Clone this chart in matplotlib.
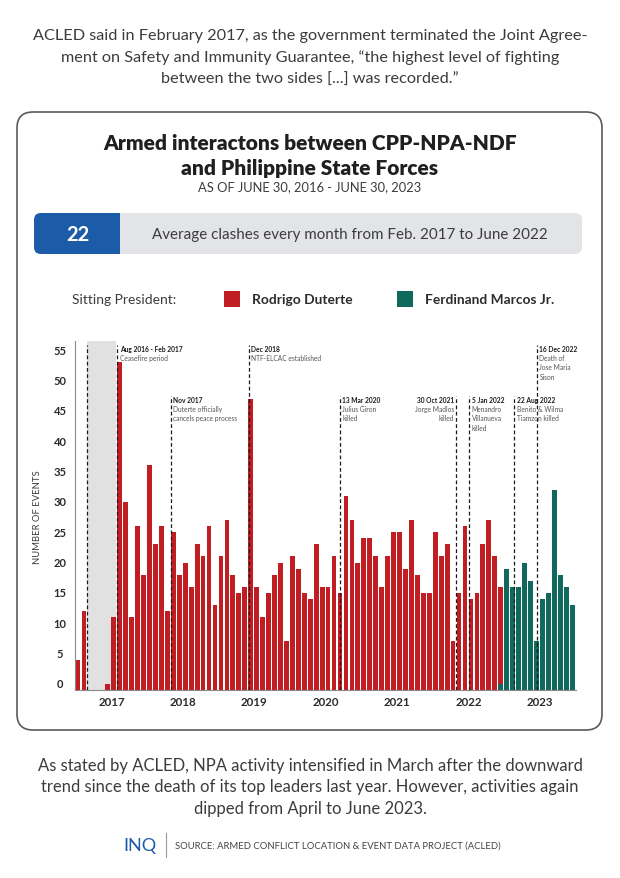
import calendar

import numpy as np
import pandas as pd
import matplotlib
matplotlib.use("Agg")
import matplotlib.pyplot as plt
from matplotlib.patches import FancyBboxPatch, Rectangle
from matplotlib.transforms import ScaledTranslation

plt.rcParams["font.family"] = ["Lato", "DejaVu Sans"]

# monthly counts, Jul 2016 - Jun 2023
months = pd.date_range("2016-07-01", "2023-06-01", freq="MS")

# Duterte: Jul 2016 - Jun 2022
duterte = [
    5, 13, 0, 0, 0, 1,
    12, 54, 31, 12, 27, 19, 37, 24, 27, 13, 26, 19,
    21, 17, 24, 22, 27, 14, 22, 28, 19, 16, 17, 48,
    17, 12, 16, 19, 21, 8, 22, 20, 16, 15, 24, 17,
    17, 22, 16, 32, 28, 21, 25, 25, 22, 17, 22, 26,
    26, 20, 28, 19, 16, 16, 26, 22, 24, 8, 16, 27,
    15, 16, 24, 28, 22, 16,
]
# Marcos Jr.: Jun 2022 - Jun 2023
marcos = [1, 20, 17, 17, 21, 18, 8, 15, 16, 33, 19, 17, 14]

ceasefire = ("2016-08-28", "2017-02-01")

# (date, bold label, description, tier, side)
events = [
    ("2017-02-01", "Aug 2016 - Feb 2017", "Ceasefire period", "high", "right"),
    ("2017-11-01", "Nov 2017", "Duterte officially\ncancels peace process", "low", "right"),
    ("2018-12-04", "Dec 2018", "NTF-ELCAC established", "high", "right"),
    ("2020-03-13", "13 Mar 2020", "Julius Giron\nkilled", "low", "right"),
    ("2021-10-30", "30 Oct 2021", "Jorge Madlos\nkilled", "low", "left"),
    ("2022-01-05", "5 Jan 2022", "Menandro\nVillanueva\nkilled", "low", "right"),
    ("2022-08-22", "22 Aug 2022", "Benito & Wilma\nTiamzon killed", "low", "right"),
    ("2022-12-16", "16 Dec 2022", "Death of\nJose Maria\nSison", "high", "right"),
]

RED = "#c11e23"
TEAL = "#0f6a5d"
BLUE = "#1b5ba8"
DARK = "#2b2b2b"
GREY_TXT = "#3c3c3c"


def month_pos(date_str):
    d = pd.Timestamp(date_str)
    ndays = calendar.monthrange(d.year, d.month)[1]
    return (d.year - months[0].year) * 12 + (d.month - months[0].month) + (d.day - 1) / ndays


fig = plt.figure(figsize=(6.2, 8.79), dpi=100)

# background layer in pixel coords
bg = fig.add_axes([0, 0, 1, 1])
bg.set_xlim(0, 620)
bg.set_ylim(879, 0)
bg.axis("off")

top_lines = [
    "ACLED said in February 2017, as the government terminated the Joint Agree-",
    "ment on Safety and Immunity Guarantee, \u201cthe highest level of fighting",
    "between the two sides [...] was recorded.\u201d",
]
for i, s in enumerate(top_lines):
    bg.text(310, 36 + 22 * i, s, ha="center", va="center", fontsize=11.7, color=GREY_TXT)

bg.add_patch(FancyBboxPatch((17, 113), 585, 618, boxstyle="round,pad=0,rounding_size=16",
                            fc="white", ec="#5a5a5a", lw=1.2))

bg.text(310, 144, "Armed interactons between CPP-NPA-NDF", ha="center", va="center",
        fontsize=15, fontweight="heavy", color="#1f1f1f")
bg.text(310, 169, "and Philippine State Forces", ha="center", va="center",
        fontsize=15, fontweight="heavy", color="#1f1f1f")
bg.text(310, 187, "AS OF JUNE 30, 2016 - JUNE 30, 2023", ha="center", va="center",
        fontsize=9.3, color=GREY_TXT)

# banner
bg.add_patch(FancyBboxPatch((34, 214), 548, 41, boxstyle="round,pad=0,rounding_size=7",
                            fc="#e3e4e8", ec="none"))
bg.add_patch(FancyBboxPatch((34, 214), 86, 41, boxstyle="round,pad=0,rounding_size=7",
                            fc=BLUE, ec="none"))
bg.add_patch(Rectangle((110, 214), 10, 41, fc=BLUE, ec="none"))
bg.text(78, 235, "22", ha="center", va="center", fontsize=14.5, fontweight="bold", color="white")
bg.text(350, 235, "Average clashes every month from Feb. 2017 to June 2022",
        ha="center", va="center", fontsize=10.9, color=GREY_TXT)

# legend
bg.text(72, 300, "Sitting President:", ha="left", va="center", fontsize=10, color=GREY_TXT)
bg.add_patch(Rectangle((224, 292), 16, 16, fc=RED, ec="none"))
bg.text(252, 300, "Rodrigo Duterte", ha="left", va="center", fontsize=9.9,
        fontweight="bold", color=DARK)
bg.add_patch(Rectangle((397, 292), 16, 16, fc=TEAL, ec="none"))
bg.text(425, 300, "Ferdinand Marcos Jr.", ha="left", va="center", fontsize=9.9,
        fontweight="bold", color=DARK)

bg.text(38, 517, "NUMBER OF EVENTS", rotation=90, ha="center", va="center",
        fontsize=6.8, color=GREY_TXT)

bottom_lines = [
    "As stated by ACLED, NPA activity intensified in March after the downward",
    "trend since the death of its top leaders last year. However, activities again",
    "dipped from April to June 2023.",
]
for i, s in enumerate(bottom_lines):
    bg.text(310, 766 + 21.5 * i, s, ha="center", va="center", fontsize=12, color=GREY_TXT)

bg.text(140, 846, "INQ", ha="center", va="center", fontsize=13, color=BLUE)
bg.plot([166, 166], [834, 858], color="#9a9a9a", lw=0.8)
bg.text(175, 846, "SOURCE: ARMED CONFLICT LOCATION & EVENT DATA PROJECT (ACLED)",
        ha="left", va="center", fontsize=6.8, color="#444444")

# chart
ax = fig.add_axes([75 / 620, (879 - 691) / 879, 501 / 620, 349 / 879])
ax.patch.set_alpha(0)

n = len(months)
x = np.arange(n)
d_arr = np.zeros(n)
d_arr[:len(duterte)] = duterte
m_arr = np.zeros(n)
m_arr[n - len(marcos):] = marcos

ax.axvspan(month_pos(ceasefire[0]), month_pos(ceasefire[1]) - 0.15, color="#e1e1e1", lw=0, zorder=0)
ax.bar(x, m_arr, width=0.8, align="edge", color=TEAL, zorder=2)
ax.bar(x, d_arr, bottom=m_arr, width=0.8, align="edge", color=RED, zorder=2)

tops = {"high": 56.8, "low": 48.4}
ax.vlines(month_pos(ceasefire[0]), 0, tops["high"], colors="#1a1a1a",
          linestyles=(0, (3, 2)), lw=0.9, zorder=3)
for date, label, desc, tier, side in events:
    xp = month_pos(date)
    ax.vlines(xp, 0, tops[tier], colors="#1a1a1a", linestyles=(0, (3, 2)), lw=0.9, zorder=3)
    dx = 1.8 if side == "right" else -1.8
    ha = "left" if side == "right" else "right"
    ytxt = tops[tier] - 0.6
    ax.annotate(label, (xp, ytxt), xytext=(dx, 0), textcoords="offset points",
                ha=ha, va="center", fontsize=4.8, fontweight="bold", color="#1a1a1a")
    ax.annotate(desc, (xp, ytxt - 0.9), xytext=(dx, 0), textcoords="offset points",
                ha=ha, va="top", fontsize=4.8, color="#555555", linespacing=1.35)

ax.set_xlim(-0.12, n + 0.05)
ax.set_ylim(0, 57.5)

jan = np.where(months.month == 1)[0]
ax.set_xticks(jan)
ax.set_xticklabels([str(months[i].year) for i in jan])
ax.tick_params(axis="x", length=0, pad=4.5, labelsize=8.3, labelcolor=DARK)
for lab in ax.get_xticklabels():
    lab.set_fontweight("bold")

ax.set_yticks(range(0, 56, 5))
ax.tick_params(axis="y", length=0, pad=10.8, labelsize=8, labelcolor=DARK)
shift = ScaledTranslation(0, 0.07, fig.dpi_scale_trans)
for lab in ax.get_yticklabels():
    lab.set_ha("center")
    lab.set_fontweight("bold")
    lab.set_transform(lab.get_transform() + shift)

for s in ["top", "right"]:
    ax.spines[s].set_visible(False)
for s in ["left", "bottom"]:
    ax.spines[s].set_color("#8a8a8a")
    ax.spines[s].set_linewidth(0.8)

fig.savefig("out.png", dpi=100)
